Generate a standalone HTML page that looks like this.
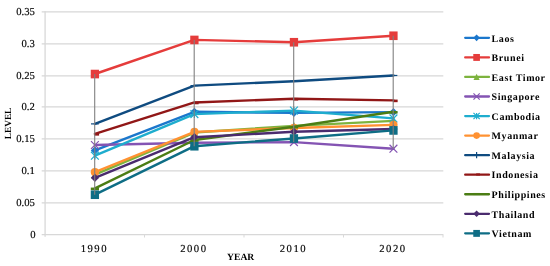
<!DOCTYPE html>
<html><head><meta charset="utf-8"><title>Chart</title>
<style>html,body{margin:0;padding:0;background:#fff}body{width:550px;height:266px;overflow:hidden}svg{display:block}</style>
</head><body>
<svg width="550" height="266" viewBox="0 0 550 266">
<rect width="550" height="266" fill="#fff"/>
<path d="M41.7 11.80H443.3M41.7 43.80H443.3M41.7 75.80H443.3M41.7 106.80H443.3M41.7 138.80H443.3M41.7 170.80H443.3M41.7 202.80H443.3M41.7 234.60H443.3" stroke="#d8d8d8" stroke-width="1.3" fill="none"/>
<path d="M45.1 11.2V236.8" stroke="#d8d8d8" stroke-width="1.3" fill="none"/>
<path d="M144.5 234.6V237.5M244 234.6V237.5M343.5 234.6V237.5M443 234.6V237.5" stroke="#d9d9d9" stroke-width="1" fill="none"/>
<polyline points="94.90,150.40 194.40,111.79 293.95,112.87 393.45,112.17" fill="none" stroke="#1b77cc" stroke-width="2.4" stroke-linejoin="round" stroke-linecap="round"/>
<path d="M90.80 150.40L94.90 146.30L99.00 150.40L94.90 154.50Z" fill="#1b77cc"/>
<path d="M190.30 111.79L194.40 107.69L198.50 111.79L194.40 115.89Z" fill="#1b77cc"/>
<path d="M289.85 112.87L293.95 108.77L298.05 112.87L293.95 116.97Z" fill="#1b77cc"/>
<path d="M389.35 112.17L393.45 108.07L397.55 112.17L393.45 116.27Z" fill="#1b77cc"/>
<polyline points="94.90,74.00 194.40,39.92 293.95,42.21 393.45,35.71" fill="none" stroke="#e53c3b" stroke-width="2.4" stroke-linejoin="round" stroke-linecap="round"/>
<rect x="90.75" y="69.73" width="8.30" height="8.63" fill="#e53c3b"/>
<rect x="190.25" y="35.64" width="8.30" height="8.63" fill="#e53c3b"/>
<rect x="289.80" y="37.94" width="8.30" height="8.63" fill="#e53c3b"/>
<rect x="389.30" y="31.44" width="8.30" height="8.63" fill="#e53c3b"/>
<polyline points="94.90,174.61 194.40,132.56 293.95,125.87 393.45,120.90" fill="none" stroke="#7db33e" stroke-width="2.4" stroke-linejoin="round" stroke-linecap="round"/>
<path d="M94.90 170.71L98.80 178.51L91.00 178.51Z" fill="#7db33e"/>
<path d="M194.40 128.66L198.30 136.46L190.50 136.46Z" fill="#7db33e"/>
<path d="M293.95 121.97L297.85 129.77L290.05 129.77Z" fill="#7db33e"/>
<path d="M393.45 117.00L397.35 124.80L389.55 124.80Z" fill="#7db33e"/>
<polyline points="94.90,144.98 194.40,142.75 293.95,142.11 393.45,148.68" fill="none" stroke="#8454b3" stroke-width="2.4" stroke-linejoin="round" stroke-linecap="round"/>
<path d="M91.00 141.08L98.80 148.88M91.00 148.88L98.80 141.08" stroke="#8454b3" stroke-width="1.2" fill="none"/>
<path d="M190.50 138.85L198.30 146.65M190.50 146.65L198.30 138.85" stroke="#8454b3" stroke-width="1.2" fill="none"/>
<path d="M290.05 138.21L297.85 146.01M290.05 146.01L297.85 138.21" stroke="#8454b3" stroke-width="1.2" fill="none"/>
<path d="M389.55 144.78L397.35 152.58M389.55 152.58L397.35 144.78" stroke="#8454b3" stroke-width="1.2" fill="none"/>
<polyline points="94.90,155.69 194.40,114.08 293.95,110.58 393.45,118.41" fill="none" stroke="#1eadce" stroke-width="2.4" stroke-linejoin="round" stroke-linecap="round"/>
<path d="M91.00 151.79L98.80 159.59M91.00 159.59L98.80 151.79M94.90 151.79L94.90 159.59" stroke="#1eadce" stroke-width="1.2" fill="none"/>
<path d="M190.50 110.18L198.30 117.98M190.50 117.98L198.30 110.18M194.40 110.18L194.40 117.98" stroke="#1eadce" stroke-width="1.2" fill="none"/>
<path d="M290.05 106.68L297.85 114.48M290.05 114.48L297.85 106.68M293.95 106.68L293.95 114.48" stroke="#1eadce" stroke-width="1.2" fill="none"/>
<path d="M389.55 114.51L397.35 122.31M389.55 122.31L397.35 114.51M393.45 114.51L393.45 122.31" stroke="#1eadce" stroke-width="1.2" fill="none"/>
<polyline points="94.90,172.19 194.40,131.92 293.95,127.97 393.45,124.91" fill="none" stroke="#ff9232" stroke-width="2.4" stroke-linejoin="round" stroke-linecap="round"/>
<circle cx="94.90" cy="172.19" r="4.10" fill="#ff9232"/>
<circle cx="194.40" cy="131.92" r="4.10" fill="#ff9232"/>
<circle cx="293.95" cy="127.97" r="4.10" fill="#ff9232"/>
<circle cx="393.45" cy="124.91" r="4.10" fill="#ff9232"/>
<polyline points="94.90,123.89 194.40,85.60 293.95,81.27 393.45,75.47" fill="none" stroke="#0f4b80" stroke-width="2.4" stroke-linejoin="round" stroke-linecap="round"/>
<path d="M91.00 123.89L98.80 123.89" stroke="#0f4b80" stroke-width="1.2" fill="none"/>
<path d="M190.50 85.60L198.30 85.60" stroke="#0f4b80" stroke-width="1.2" fill="none"/>
<path d="M290.05 81.27L297.85 81.27" stroke="#0f4b80" stroke-width="1.2" fill="none"/>
<path d="M389.55 75.47L397.35 75.47" stroke="#0f4b80" stroke-width="1.2" fill="none"/>
<polyline points="94.90,133.83 194.40,102.48 293.95,98.73 393.45,100.38" fill="none" stroke="#911717" stroke-width="2.4" stroke-linejoin="round" stroke-linecap="round"/>
<rect x="94.40" y="133.03" width="4.70" height="2.60" fill="#911717"/>
<rect x="193.90" y="101.68" width="4.70" height="2.60" fill="#911717"/>
<rect x="293.45" y="97.93" width="4.70" height="2.60" fill="#911717"/>
<rect x="392.95" y="99.58" width="4.70" height="2.60" fill="#911717"/>
<polyline points="94.90,188.37 194.40,140.01 293.95,126.70 393.45,111.79" fill="none" stroke="#4b7d14" stroke-width="2.4" stroke-linejoin="round" stroke-linecap="round"/>
<rect x="90.80" y="187.57" width="8.20" height="2.60" fill="#4b7d14"/>
<rect x="190.30" y="139.21" width="8.20" height="2.60" fill="#4b7d14"/>
<rect x="289.85" y="125.90" width="8.20" height="2.60" fill="#4b7d14"/>
<rect x="389.35" y="110.99" width="8.20" height="2.60" fill="#4b7d14"/>
<polyline points="94.90,177.79 194.40,137.21 293.95,131.79 393.45,129.05" fill="none" stroke="#4a2b6e" stroke-width="2.4" stroke-linejoin="round" stroke-linecap="round"/>
<path d="M90.80 177.79L94.90 173.69L99.00 177.79L94.90 181.89Z" fill="#4a2b6e"/>
<path d="M190.30 137.21L194.40 133.11L198.50 137.21L194.40 141.31Z" fill="#4a2b6e"/>
<path d="M289.85 131.79L293.95 127.69L298.05 131.79L293.95 135.89Z" fill="#4a2b6e"/>
<path d="M389.35 129.05L393.45 124.95L397.55 129.05L393.45 133.15Z" fill="#4a2b6e"/>
<polyline points="94.90,194.68 194.40,146.19 293.95,138.48 393.45,130.39" fill="none" stroke="#0e6d85" stroke-width="2.4" stroke-linejoin="round" stroke-linecap="round"/>
<rect x="90.75" y="190.40" width="8.30" height="8.63" fill="#0e6d85"/>
<rect x="190.25" y="141.92" width="8.30" height="8.63" fill="#0e6d85"/>
<rect x="289.80" y="134.21" width="8.30" height="8.63" fill="#0e6d85"/>
<rect x="389.30" y="126.12" width="8.30" height="8.63" fill="#0e6d85"/>
<path d="M94.70 74.00V194.68" stroke="#808080" stroke-width="1.1" fill="none"/>
<path d="M194.20 39.92V146.19" stroke="#808080" stroke-width="1.1" fill="none"/>
<path d="M293.70 42.21V142.11" stroke="#808080" stroke-width="1.1" fill="none"/>
<path d="M393.20 35.71V148.68" stroke="#808080" stroke-width="1.1" fill="none"/>
<g font-family="'Liberation Serif',serif" font-size="10.67" fill="#000" stroke="#000" stroke-width="0.15" text-rendering="geometricPrecision">
<text x="34.8" y="15.40" text-anchor="end">0.35</text>
<text x="34.8" y="47.40" text-anchor="end">0.3</text>
<text x="34.8" y="79.40" text-anchor="end">0.25</text>
<text x="34.8" y="110.40" text-anchor="end">0.2</text>
<text x="34.8" y="142.40" text-anchor="end">0.15</text>
<text x="34.8" y="174.40" text-anchor="end">0.1</text>
<text x="34.8" y="206.40" text-anchor="end">0.05</text>
<text x="35.7" y="238.20" text-anchor="end">0</text>
<text x="80.70" y="252" letter-spacing="1.5">1990</text>
<text x="180.20" y="252" letter-spacing="1.5">2000</text>
<text x="279.75" y="252" letter-spacing="1.5">2010</text>
<text x="379.25" y="252" letter-spacing="1.5">2020</text>
</g>
<g font-family="'Liberation Serif',serif" font-weight="bold" fill="#000" text-rendering="geometricPrecision">
<text x="227.1" y="260.3" font-size="9.6">YEAR</text>
<text transform="translate(11 139.3) rotate(-90)" font-size="9.33">LEVEL</text>
<path d="M465.2 37.85H489" stroke="#1b77cc" stroke-width="2.3" stroke-linecap="round" fill="none"/>
<path d="M473.32 37.85L476.60 34.57L479.88 37.85L476.60 41.13Z" fill="#1b77cc"/>
<text x="491.6" y="41.55" font-size="10" letter-spacing="0.58">Laos</text>
<path d="M465.2 57.40H489" stroke="#e53c3b" stroke-width="2.3" stroke-linecap="round" fill="none"/>
<rect x="473.28" y="53.98" width="6.64" height="6.91" fill="#e53c3b"/>
<text x="491.6" y="61.10" font-size="10" letter-spacing="0.58">Brunei</text>
<path d="M465.2 76.95H489" stroke="#7db33e" stroke-width="2.3" stroke-linecap="round" fill="none"/>
<path d="M476.60 73.83L479.72 80.07L473.48 80.07Z" fill="#7db33e"/>
<text x="491.6" y="80.65" font-size="10" letter-spacing="0.58">East Timor</text>
<path d="M465.2 96.50H489" stroke="#8454b3" stroke-width="2.3" stroke-linecap="round" fill="none"/>
<path d="M473.48 93.38L479.72 99.62M473.48 99.62L479.72 93.38" stroke="#8454b3" stroke-width="1.2" fill="none"/>
<text x="491.6" y="100.20" font-size="10" letter-spacing="0.58">Singapore</text>
<path d="M465.2 116.05H489" stroke="#1eadce" stroke-width="2.3" stroke-linecap="round" fill="none"/>
<path d="M473.48 112.93L479.72 119.17M473.48 119.17L479.72 112.93M476.60 112.93L476.60 119.17" stroke="#1eadce" stroke-width="1.2" fill="none"/>
<text x="491.6" y="119.75" font-size="10" letter-spacing="0.58">Cambodia</text>
<path d="M465.2 135.60H489" stroke="#ff9232" stroke-width="2.3" stroke-linecap="round" fill="none"/>
<circle cx="476.60" cy="135.60" r="3.28" fill="#ff9232"/>
<text x="491.6" y="139.30" font-size="10" letter-spacing="0.58">Myanmar</text>
<path d="M465.2 155.15H489" stroke="#0f4b80" stroke-width="2.3" stroke-linecap="round" fill="none"/>
<path d="M473.48 155.15L479.72 155.15M476.60 152.03L476.60 158.27" stroke="#0f4b80" stroke-width="1.2" fill="none"/>
<text x="491.6" y="158.85" font-size="10" letter-spacing="0.58">Malaysia</text>
<path d="M465.2 174.70H489" stroke="#911717" stroke-width="2.3" stroke-linecap="round" fill="none"/>
<rect x="476.20" y="173.42" width="3.76" height="2.08" fill="#911717"/>
<text x="491.6" y="178.40" font-size="10" letter-spacing="0.58">Indonesia</text>
<path d="M465.2 194.25H489" stroke="#4b7d14" stroke-width="2.3" stroke-linecap="round" fill="none"/>
<rect x="473.32" y="192.97" width="6.56" height="2.08" fill="#4b7d14"/>
<text x="491.6" y="197.95" font-size="10" letter-spacing="0.58">Philippines</text>
<path d="M465.2 213.80H489" stroke="#4a2b6e" stroke-width="2.3" stroke-linecap="round" fill="none"/>
<path d="M473.32 213.80L476.60 210.52L479.88 213.80L476.60 217.08Z" fill="#4a2b6e"/>
<text x="491.6" y="217.50" font-size="10" letter-spacing="0.58">Thailand</text>
<path d="M465.2 233.35H489" stroke="#0e6d85" stroke-width="2.3" stroke-linecap="round" fill="none"/>
<rect x="473.28" y="229.93" width="6.64" height="6.91" fill="#0e6d85"/>
<text x="491.6" y="237.05" font-size="10" letter-spacing="0.58">Vietnam</text>
</g>
</svg>
</body></html>
